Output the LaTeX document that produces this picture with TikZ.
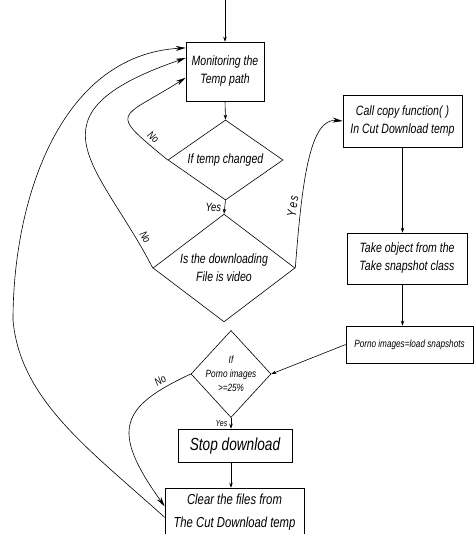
\documentclass[tikz,border=0pt]{standalone}
\usepackage{fontspec}
\newfontfamily\flowfont{Liberation Sans Italic}[FakeStretch=0.78]
\usetikzlibrary{shapes.geometric, arrows.meta}

\begin{document}
\begin{tikzpicture}[
    x=1pt, y=-1pt,
    every node/.style={font=\flowfont},
    box/.style={draw, align=center, inner sep=0pt},
    dia/.style={draw, diamond, align=center, inner sep=-2pt},
    arr/.style={-{Stealth[length=5pt,width=3.5pt]}},
    bigarr/.style={-{Stealth[length=10pt,width=5pt]}},
    line width=.6pt]
      \useasboundingbox (0,0) rectangle (474,534);

      \coordinate (top) at (225,0);

      {\fontsize{13.5}{18}\selectfont
      \node[box, minimum width=78, minimum height=59] (mon) at (225,71.5) {Monitoring the\\Temp path};
      \node[dia, minimum width=115, minimum height=66] (d1) at (225.5,160) {If temp changed};
      \node[dia, minimum width=142, minimum height=85] (d2) at (224,268) {Is the downloading\\File is video};
      \node[box, minimum width=119, minimum height=52] (call) at (402.5,121) {Call copy function( )\\In Cut Download temp};
      \node[box, minimum width=120, minimum height=51] (take) at (407,258.5) {Take object from the\\Take snapshot class};
      }

      {\fontsize{10.5}{14}\selectfont
      \node[box, minimum width=127, minimum height=37] (porno) at (409.5,344.5) {Porno images=load snapshots};
      \node[dia, minimum width=80, minimum height=87] (d3) at (231,374) {If\\Porno images\\>=25\%};
      }

      {\fontsize{17.5}{20}\selectfont
      \node[box, minimum width=114, minimum height=33] (stop) at (235,445.5) {Stop download};
      }

      {\fontsize{14.5}{23}\selectfont
      \node[box, minimum width=139, minimum height=49] (clear) at (234.5,512.5) {Clear the files from\\The Cut Download temp};
      }

      % straight
      \draw[arr] (top) -- (mon.north);
      \draw[arr] (mon.south) -- (d1.north);
      \draw[arr] (d1.south) -- node[left, font=\flowfont\fontsize{12}{14}\selectfont] {Yes} (d2.north);
      \draw[arr] (call.south) -- (call.south |- take.north);
      \draw[arr] (take.south -| call.south) -- (call.south |- porno.north);
      \draw[arr] (porno.west) -- (d3.east);
      \draw[arr] (d3.south) -- node[left, font=\flowfont\fontsize{9}{11}\selectfont] {Yes} (d3.south |- stop.north);
      \draw[arr] (stop.south -| d3.south) -- (d3.south |- clear.north);

      % back to monitoring
      \draw[bigarr] (d1.west) .. controls (107,110) and (119,120) .. node[sloped, above=1pt, pos=.13, font=\flowfont\fontsize{11}{13}\selectfont] {No} (mon.189);
      \draw[bigarr] (d2.west) .. controls (100,165) and (20,115) .. node[sloped, above=1pt, pos=.09, font=\flowfont\fontsize{11}{13}\selectfont] {No} (mon.161);
      \draw[bigarr] (clear.184.5) .. controls (90,450) and (20,400) .. (13,320)
                                .. controls (13,200) and (60,55) .. (mon.149);

      % yes / no
      \draw[bigarr] (d2.east) .. controls (302,180) and (310,118) .. node[sloped, above, pos=.25, font=\flowfont\fontsize{13}{15}\selectfont] {Y\hspace{2pt}e\hspace{2pt}s} (call.west);
      \draw[bigarr] (d3.west) .. controls (120,407) and (110,430) .. node[sloped, above=1pt, pos=.14, font=\flowfont\fontsize{11}{13}\selectfont] {No} (clear.175.5);

    \end{tikzpicture}
\end{document}
